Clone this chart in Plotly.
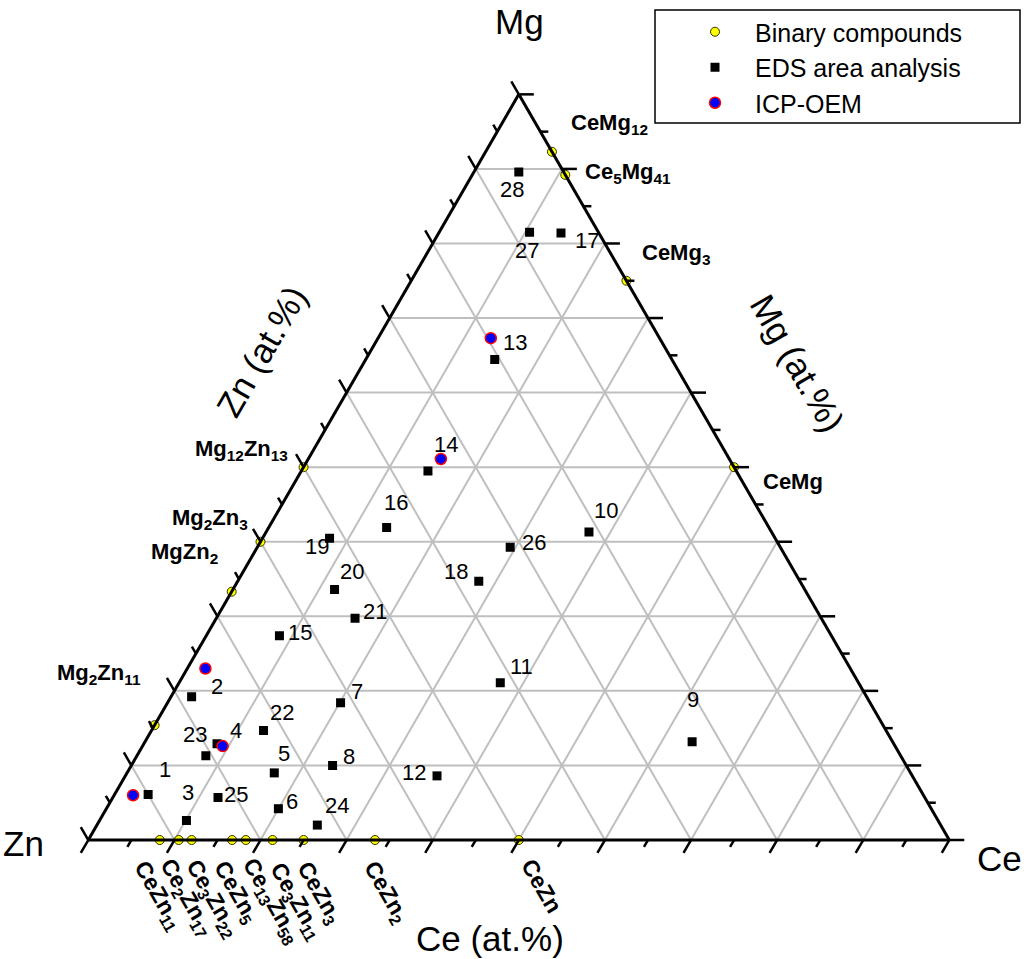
import math
import plotly.graph_objects as go

# binary compounds sitting on the three edges (at.%)
bin_label = ["CeZn<sub>11</sub>", "Ce<sub>2</sub>Zn<sub>17</sub>", "Ce<sub>3</sub>Zn<sub>22</sub>",
             "CeZn<sub>5</sub>", "Ce<sub>13</sub>Zn<sub>58</sub>", "Ce<sub>3</sub>Zn<sub>11</sub>",
             "CeZn<sub>3</sub>", "CeZn<sub>2</sub>", "CeZn",
             "Mg<sub>2</sub>Zn<sub>11</sub>", "MgZn<sub>2</sub>", "Mg<sub>2</sub>Zn<sub>3</sub>",
             "Mg<sub>12</sub>Zn<sub>13</sub>",
             "CeMg", "CeMg<sub>3</sub>", "Ce<sub>5</sub>Mg<sub>41</sub>", "CeMg<sub>12</sub>"]
bin_mg = [0, 0, 0, 0, 0, 0, 0, 0, 0, 15.4, 33.3, 40.0, 50.0, 50.0, 75.0, 89.2, 92.3]
bin_zn = [91.7, 89.5, 88.0, 83.3, 81.7, 78.6, 75.0, 66.7, 50.0, 84.6, 66.7, 60.0, 50.0, 0, 0, 0, 0]
bin_ce = [8.3, 10.5, 12.0, 16.7, 18.3, 21.4, 25.0, 33.3, 50.0, 0, 0, 0, 0, 50.0, 25.0, 10.8, 7.7]

# EDS area analysis, points 1..28
eds_id = list(range(1, 29))
eds_mg = [6.1, 19.2, 2.6, 12.9, 9.0, 4.2, 18.4, 10.0, 13.2, 41.3, 21.1, 8.6, 64.5, 49.5,
          27.4, 41.9, 81.4, 34.7, 40.5, 33.6, 29.7, 14.7, 11.3, 2.0, 5.7, 39.3, 81.5, 89.6]
eds_zn = [90.0, 78.4, 87.3, 78.6, 73.9, 75.9, 61.5, 66.7, 23.3, 21.2, 41.6, 55.2, 20.6, 35.8,
          64.1, 44.4, 4.4, 37.3, 51.8, 54.6, 54.1, 72.3, 80.7, 72.4, 82.0, 31.4, 8.0, 5.2]
eds_ce = [3.9, 2.4, 10.1, 8.5, 17.1, 20.0, 20.1, 23.4, 63.6, 37.5, 37.3, 36.2, 15.0, 14.7,
          8.5, 13.7, 14.2, 28.0, 7.8, 11.8, 16.1, 13.0, 8.0, 25.6, 12.2, 29.4, 10.5, 5.2]

# ICP-OEM
icp_mg = [6.0, 23.0, 12.6, 67.3, 51.1]
icp_zn = [91.8, 74.9, 78.1, 19.6, 33.5]
icp_ce = [2.2, 2.1, 9.3, 13.1, 15.4]

tick_vals = list(range(0, 101, 5))

# ---- page geometry (px) ----
FW, FH = 1024, 959
TL, TR, TB = 88.3, 949.3, 840.0
TW = TR - TL
TH = TW * math.sqrt(3) / 2
FONT = "Liberation Sans, Arial, sans-serif"
LEGEND_BOX = (655, 10, 1020, 123)

# label offsets from the marker, px (dx right, dy down)
bin_off = [(-1, 56), (8, 57), (21, 58), (4, 52), (26, 61), (24, 61), (16, 53), (11, 52), (23, 46),
           (-56, -51), (-47, -39), (-51, -23), (-62, -17),
           (59, 14), (50, -27), (63, -2), (58, -28)]
bin_ang = [60] * 9 + [0] * 8
bin_size = [23] * 9 + [22] * 8
num_off = {1: (17, -25), 2: (25, -10), 3: (2, -28), 4: (19, -13), 5: (10, -19), 6: (14, -7),
           7: (16, -11), 8: (16, -9), 9: (1, -42), 10: (17, -22), 11: (21, -16), 12: (-23, -3),
           13: (20, -17), 14: (18, -26), 15: (21, -3), 16: (9, -25), 17: (26, 7), 18: (-23, -10),
           19: (-13, 8), 20: (17, -18), 21: (20, -7), 22: (18, -18), 23: (-11, -21), 24: (20, -20),
           25: (18, -3), 26: (24, -5), 27: (-3, 18), 28: (-7, 18)}


def to_px(mg, zn, ce):
    s = mg + zn + ce
    a, c = mg / s, ce / s
    return TL + TW * (c + a / 2), TB - TH * a


def paper(x, y):
    return x / FW, 1 - y / FH


fig = go.Figure()
fig.add_trace(go.Scatterternary(
    a=bin_mg, b=bin_zn, c=bin_ce, mode="markers", name="Binary compounds", cliponaxis=False,
    marker=dict(symbol="circle", size=9, color="#ffff00", line=dict(color="#333300", width=1))))
fig.add_trace(go.Scatterternary(
    a=eds_mg, b=eds_zn, c=eds_ce, mode="markers", name="EDS area analysis",
    marker=dict(symbol="square", size=9, color="black")))
fig.add_trace(go.Scatterternary(
    a=icp_mg, b=icp_zn, c=icp_ce, mode="markers", name="ICP-OEM",
    marker=dict(symbol="circle", size=11, color="#0000ff", line=dict(color="#ff0000", width=1.5))))

axis = dict(title=dict(text=""), showticklabels=False, ticks="", tick0=0, dtick=10,
            showgrid=True, gridcolor="#bfbfbf", gridwidth=1.5,
            showline=True, linecolor="black", linewidth=3, min=0)

shapes = []
for t in tick_vals:
    L = 15 if t % 10 == 0 else 8
    edges = [
        (to_px(t, 0, 100 - t), (1, 0)),                          # Mg, right edge
        (to_px(0, 100 - t, t), (-0.5, math.sqrt(3) / 2)),        # Ce, bottom edge
        (to_px(100 - t, t, 0), (-0.5, -math.sqrt(3) / 2)),       # Zn, left edge
    ]
    for (x0, y0), (dx, dy) in edges:
        p0 = paper(x0, y0)
        p1 = paper(x0 + L * dx, y0 + L * dy)
        shapes.append(dict(type="line", xref="paper", yref="paper",
                           x0=p0[0], y0=p0[1], x1=p1[0], y1=p1[1],
                           line=dict(color="black", width=2.5)))

# frame around the legend
bx0, by0 = paper(LEGEND_BOX[0], LEGEND_BOX[1])
bx1, by1 = paper(LEGEND_BOX[2], LEGEND_BOX[3])
shapes.append(dict(type="rect", xref="paper", yref="paper", x0=bx0, y0=by0, x1=bx1, y1=by1,
                   line=dict(color="black", width=1.5), fillcolor="rgba(0,0,0,0)"))

ann = []
for name, mg, zn, ce, (dx, dy), ang, fs in zip(bin_label, bin_mg, bin_zn, bin_ce,
                                               bin_off, bin_ang, bin_size):
    x, y = to_px(mg, zn, ce)
    px, py = paper(x + dx, y + dy)
    ann.append(dict(x=px, y=py, xref="paper", yref="paper", text="<b>" + name + "</b>",
                    textangle=ang, showarrow=False, xanchor="center", yanchor="middle",
                    font=dict(family=FONT, size=fs, color="black")))

for i, mg, zn, ce in zip(eds_id, eds_mg, eds_zn, eds_ce):
    x, y = to_px(mg, zn, ce)
    dx, dy = num_off[i]
    px, py = paper(x + dx, y + dy)
    ann.append(dict(x=px, y=py, xref="paper", yref="paper", text=str(i), showarrow=False,
                    xanchor="center", yanchor="middle",
                    font=dict(family=FONT, size=22, color="black")))

titles = [("Mg", 519, 22, 0), ("Zn", 23, 843, 0), ("Ce", 999, 858, 0),
          ("Zn (at.%)", 261, 351, -60), ("Mg (at.%)", 798, 363, 60), ("Ce (at.%)", 490, 938, 0)]
for txt, x, y, ang in titles:
    px, py = paper(x, y)
    ann.append(dict(x=px, y=py, xref="paper", yref="paper", text=txt, textangle=ang,
                    showarrow=False, xanchor="center", yanchor="middle",
                    font=dict(family=FONT, size=35, color="black")))

fig.update_layout(
    width=FW, height=FH,
    margin=dict(l=0, r=0, t=0, b=0),
    paper_bgcolor="white",
    font=dict(family=FONT, color="black"),
    ternary=dict(
        sum=100,
        domain=dict(x=[TL / FW, TR / FW], y=[1 - TB / FH, 1 - (TB - TH) / FH]),
        bgcolor="white",
        aaxis=axis, baxis=axis, caxis=axis,
    ),
    legend=dict(x=655 / FW, y=1 - 9 / FH, xanchor="left", yanchor="top",
                bgcolor="rgba(0,0,0,0)", borderwidth=0,
                font=dict(family=FONT, size=25, color="black"),
                itemwidth=70, indentation=20),
    shapes=shapes,
    annotations=ann,
)

# page body margin would shift the 1024x959 figure by 8px
fig.write_html("out.html", config={"displayModeBar": False},
               post_script="document.body.style.margin='0';document.body.style.overflow='hidden';")
